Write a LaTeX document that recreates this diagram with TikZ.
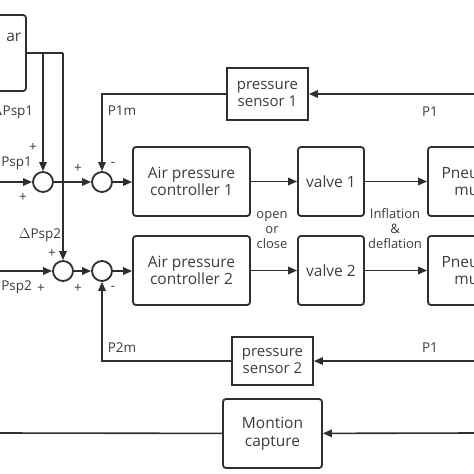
\documentclass[tikz,border=0pt]{standalone}
\usepackage{fontspec}
\setmainfont{Open Sans}
\usetikzlibrary{arrows.meta}
\definecolor{lc}{HTML}{2E2E2E}
\definecolor{tc}{HTML}{3C3C3C}
\begin{document}
\begin{tikzpicture}[x=1pt,y=-1pt,
  line width=1.6pt,
  every node/.style={text=tc, font=\fontsize{13.5}{16}\selectfont, inner sep=0pt},
  arr/.style={draw=lc, -{Triangle[length=9pt,width=7.5pt]}},
  ln/.style={draw=lc},
  blk/.style={draw=lc, line width=1.8pt, rounded corners=3pt, align=center, font=\fontsize{15.5}{17.5}\selectfont},
  sens/.style={draw=lc, line width=1.8pt, align=center, font=\fontsize{15}{17.5}\selectfont},
  sumc/.style={draw=lc, line width=1.8pt, circle, minimum size=20pt},
  lbl/.style={align=center, font=\fontsize{13}{15}\selectfont}]
\useasboundingbox (0,0) rectangle (474,474);
\clip (0,0) rectangle (474,474);
% blocks
\node[blk, minimum width=86pt, minimum height=76pt] (src) at (-17,53) {};
\node[anchor=east, font=\fontsize{15.5}{17.5}\selectfont] (srct) at (22,37) {ar};
\node[blk, minimum width=117pt, minimum height=69pt] (c1) at (191.5,181.5) {Air pressure\\controller 1};
\node[blk, minimum width=117pt, minimum height=69pt] (c2) at (191.5,270.5) {Air pressure\\controller 2};
\node[blk, minimum width=66pt, minimum height=69pt] (v1) at (331,181.5) {valve 1};
\node[blk, minimum width=66pt, minimum height=69pt] (v2) at (331,270.5) {valve 2};
\node[blk, minimum width=104pt, minimum height=69pt] (m1) at (480,181.5) {Pneumatic\\muscle};
\node[blk, minimum width=104pt, minimum height=69pt] (m2) at (480,270.5) {Pneumatic\\muscle};
\node[sens, minimum width=81pt, minimum height=52pt] (ps1) at (267.5,94) {pressure\\sensor 1};
\node[sens, minimum width=81pt, minimum height=48pt] (ps2) at (272.5,361) {pressure\\sensor 2};
\node[blk, minimum width=99pt, minimum height=69pt] (mc) at (272.5,433.5) {Montion\\capture};
% summing junctions
\node[sumc] (s1) at (43,182) {};
\node[sumc] (s2) at (102,182) {};
\node[sumc] (s3) at (63,271) {};
\node[sumc] (s4) at (102,271) {};
% free ends
\coordinate (in1) at (-2,182);
\coordinate (in2) at (-2,271);
\coordinate (k1) at (43,53);
\coordinate (k2) at (63,53);
\coordinate (r1) at (476,94);
\coordinate (r2) at (476,361);
\coordinate (r3) at (476,433);
\coordinate (lo) at (-2,433);
% connectors
\draw[ln] (src.east |- k2) -- (k2);
\draw[arr] (k1) -- (s1);
\draw[arr] (k2) -- (s3);
\draw[arr] (in1) -- (s1);
\draw[arr] (in2) -- (s3);
\draw[arr] (s1) -- (s2);
\draw[arr] (s3) -- (s4);
\draw[arr] (s2) -- (s2 -| c1.west);
\draw[arr] (s4) -- (s4 -| c2.west);
\draw[arr] (c1) -- (v1);
\draw[arr] (c2) -- (v2);
\draw[arr] (v1) -- (m1);
\draw[arr] (v2) -- (m2);
\draw[arr] (r1) -- (ps1);
\draw[arr] (r2) -- (ps2);
\draw[arr] (r3) -- (mc);
\draw[ln] (mc) -- (lo);
\draw[arr] (ps1.west) -| (s2);
\draw[arr] (ps2.west) -| (s4);
% labels
\node[anchor=east] (d1) at (34,112) {$\Delta$Psp1};
\node[anchor=west] (p1) at (0.5,163) {Psp1};
\node (a1) at (33,147) {+};
\node (a2) at (23,197) {+};
\node (a3) at (78,168) {+};
\node (a4) at (113,164) {-};
\node[anchor=west] (pm1) at (107,111) {P1m};
\node (d2) at (40,235) {$\Delta$Psp2};
\node (a5) at (52,253) {+};
\node[anchor=west] (p2) at (0.5,287) {Psp2};
\node (a6) at (41,288) {+};
\node (a7) at (78,288) {+};
\node (a8) at (113,288) {-};
\node[anchor=west] (pm2) at (107,348) {P2m};
\node (q1) at (430,112) {P1};
\node (q2) at (430,348) {P1};
\node[lbl] (oc) at (272,230) {open\\or\\close};
\node[lbl] (id) at (395,229) {Inflation\\\&\\deflation};
\end{tikzpicture}
\end{document}
